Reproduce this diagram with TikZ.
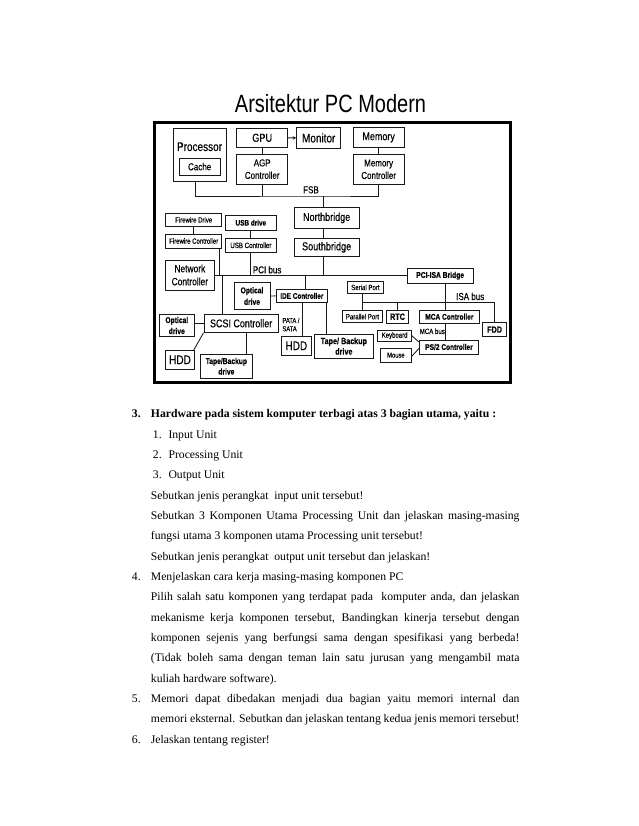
\documentclass[tikz,border=0pt]{standalone}
\usepackage{fontspec}
\setmainfont{Liberation Serif}
\newfontfamily\dgfont[FakeStretch=0.8,FakeBold=0.35]{Liberation Sans}
\newfontfamily\dgbfont[FakeStretch=0.8,FakeBold=0.3]{Liberation Sans}
\newfontfamily\ttlfont[FakeStretch=0.8]{Liberation Sans}
\usetikzlibrary{arrows.meta}
\newcommand\dfs[2]{\dgfont\fontsize{#1}{#2}\selectfont}
\newcommand\dbs[2]{\dgbfont\fontsize{#1}{#2}\selectfont\bfseries}
\newcommand\pcbox[7]{\node[box,#6,minimum width={#4-#2},minimum height={#5-#3}] (#1) at ({(#2+#4)/2},{(#3+#5)/2}) {#7};}
\newcommand\bodyfs{\fontsize{11.7}{14}\selectfont}
\begin{document}
\begin{tikzpicture}[x=1pt,y=-1pt,
  box/.style={draw=black!90,line width=0.85pt,inner sep=0pt,align=center,text=black},
  lbl/.style={inner sep=0pt,text=black},
  wire/.style={draw=black!90,line width=0.85pt},
  txt/.style={anchor=base west,inner sep=0pt,font=\bodyfs,text=black},
  txtb/.style={txt,font=\bodyfs\bfseries}]
\fill[white] (0,0) rectangle (638,826);
\useasboundingbox (0,0) rectangle (638,826);

% title and frame
\node[lbl,anchor=base,font=\ttlfont\fontsize{25}{28}\selectfont] (title) at (330.5,113) {Arsitektur PC Modern};
\node[draw=black,line width=3pt,inner sep=0pt,minimum width=356,minimum height=260.4] (frame) at (332,252.5) {};

% boxes
\pcbox{proc}{173}{128}{226}{181}{}{}
\node[lbl,anchor=base,font=\dfs{12.5}{14}] (procl) at (199.5,151) {Processor};
\pcbox{cache}{179.3}{158.3}{220}{175}{font=\dfs{10}{12}}{Cache}
\pcbox{gpu}{236.7}{128.3}{287.7}{147.3}{font=\dfs{11.5}{13}}{GPU}
\pcbox{mon}{296.7}{127.3}{340.7}{148.7}{font=\dfs{12.5}{14}}{Monitor}
\pcbox{agp}{236.7}{154.3}{287.7}{184}{font=\dfs{10}{12.5}}{AGP\\Controller}
\pcbox{mem}{353.3}{127.7}{404}{147.3}{font=\dfs{11.2}{13}}{Memory}
\pcbox{memc}{353.3}{154.3}{404}{184.3}{font=\dfs{10}{12.5}}{Memory\\Controller}
\pcbox{nb}{294}{207.7}{359.3}{228.3}{font=\dfs{11.3}{13}}{Northbridge}
\pcbox{sb}{294}{238}{359.3}{256.7}{font=\dfs{11.4}{13}}{Southbridge}
\pcbox{fwd}{165.7}{213}{221.7}{226.7}{font=\dfs{7.5}{9}}{Firewire Drive}
\pcbox{fwc}{165.7}{234}{221.7}{248}{font=\dfs{7.5}{9}}{Firewire Controller}
\pcbox{usbd}{225}{215.5}{276.7}{230}{font=\dbs{8}{9}}{USB drive}
\pcbox{usbc}{225}{238.3}{276.7}{252.3}{font=\dfs{7.7}{9}}{USB Controller}
\pcbox{net}{165.7}{260}{214}{290}{font=\dfs{10.5}{13}}{Network\\Controller}
\pcbox{opt1}{234}{282.7}{270}{309.3}{font=\dbs{8.4}{11.5}}{Optical\\drive}
\pcbox{ide}{276}{289.5}{327.7}{302.3}{font=\dbs{8}{9}}{IDE Controller}
\pcbox{scsi}{204}{314.3}{278.3}{332.3}{font=\dfs{11.2}{13}}{SCSI Controller}
\pcbox{opt2}{159.3}{314.3}{194.3}{336.7}{font=\dbs{8.4}{11}}{Optical\\drive}
\pcbox{hdd1}{165.7}{350.5}{194.3}{369}{font=\dfs{12.5}{14}}{HDD}
\pcbox{tape1}{200.7}{354}{252}{378.5}{font=\dbs{8.4}{10.5}}{Tape/Backup\\drive}
\pcbox{hdd2}{281.7}{336.5}{311}{355}{font=\dfs{12.5}{14}}{HDD}
\pcbox{tape2}{314.5}{334}{373.3}{358.3}{font=\dbs{9}{10.5}}{Tape/ Backup\\drive}
\pcbox{ser}{347.5}{281.5}{383.3}{293.3}{font=\dfs{7.6}{9}}{Serial Port}
\pcbox{par}{342}{310.5}{382.8}{322.8}{font=\dfs{7.6}{9}}{Parallel Port}
\pcbox{rtc}{386.5}{310.5}{408.5}{323}{font=\dbs{9}{10}}{RTC}
\pcbox{mca}{419.2}{310}{479.5}{323.5}{font=\dbs{8.2}{9}}{MCA Controller}
\pcbox{isa}{407}{268}{473.3}{283.5}{font=\dbs{8.4}{9}}{PCI-ISA Bridge}
\pcbox{fdd}{482.5}{322.5}{506.7}{336.7}{font=\dbs{9}{10}}{FDD}
\pcbox{kbd}{377.7}{330.3}{411.5}{341.2}{font=\dfs{7.5}{9}}{Keyboard}
\pcbox{mouse}{380.3}{348.3}{411.5}{362}{font=\dfs{7.2}{9}}{Mouse}
\pcbox{ps2}{419.3}{340}{478.7}{354}{font=\dbs{8.2}{9}}{PS/2 Controller}

% connectors
\draw[wire,-{Stealth[length=3.5pt,width=3.5pt]}] (gpu) -- (mon);
\draw[wire] (gpu) -- (agp);
\draw[wire] (mem) -- (memc);
\coordinate (fsb) at (323.3,196);
\draw[wire] ([xshift=-4.5pt]proc.south) |- (fsb) -| (memc.south);
\draw[wire] (agp.south) -- (agp.south |- fsb);
\draw[wire] (fsb) -- (fsb |- nb.north);
\draw[wire] (fsb |- nb.south) -- (fsb |- sb.north);
\coordinate (pci) at (323.3,275);
\draw[wire] (net.east |- pci) -- (isa.west |- pci);
\draw[wire] (fsb |- sb.south) -- (pci);
\draw[wire] (fwd) -- (fwc);
\draw[wire] (usbd) -- (usbc);
\draw[wire] ([xshift=-2.7pt]fwc.south east) -- ([xshift=-2.7pt]fwc.south east |- pci);
\draw[wire] (usbc.south) -- (usbc.south |- pci);
\draw[wire] ([xshift=18.7pt]scsi.north west) -- ([xshift=18.7pt]scsi.north west |- pci);
\draw[wire] ([xshift=3.9pt]ide.north) -- ([xshift=3.9pt]ide.north |- pci);
\draw[wire] (opt1.east) -- (ide.west);
\draw[wire] (scsi.west) -- (scsi.west -| opt2.east);
\draw[wire] (scsi.south west) -- ([xshift=-1pt]hdd1.north east);
\draw[wire] ([xshift=4.8pt]scsi.south) -- ([xshift=4.8pt]scsi.south |- tape1.north);
\draw[wire] ([xshift=0.9pt]ide.south) -- ([xshift=0.9pt]ide.south |- hdd2.north);
\draw[wire] ([xshift=-1.5pt]ide.south east) -- ([xshift=-1.5pt]ide.south east |- tape2.north);
\coordinate (isab) at (445.7,302.3);
\draw[wire] (isa.south -| isab) -- (mca.north -| isab);
\draw[wire] (par.north) -- (par.north |- ser.south);
\draw[wire] (par.north |- isab) -- (fdd.north |- isab) -- (fdd.north);
\draw[wire] (rtc.north) -- (rtc.north |- isab);
\draw[wire] (mca.south -| isab) -- (ps2.north -| isab);
\draw[wire] (kbd.east) -- ([yshift=5pt]ps2.west);
\draw[wire] ([yshift=-1pt]mouse.east) -- ([yshift=-1.5pt]ps2.west);

% bus labels
\node[lbl,anchor=base,font=\dfs{10}{12}] (fsbl) at (311,193.3) {FSB};
\node[lbl,anchor=base west,font=\dfs{10}{12}] (pcil) at (252.7,273.3) {PCI bus};
\node[lbl,anchor=base west,font=\dfs{10}{12}] (isal) at (456,300) {ISA bus};
\node[lbl,anchor=base west,font=\dfs{7.2}{8.3}] (pata1) at (282.3,323) {PATA /};
\node[lbl,anchor=base west,font=\dfs{7.2}{8.3}] (pata2) at (282.3,331.3) {SATA};
\node[lbl,anchor=base east,font=\dfs{7.6}{9}] (mcal) at (445,334) {MCA bus};

% body text
\node[txtb] (n3) at (131.7,417.7) {3.};
\node[txtb] (t0) at (150.7,417.7) {Hardware pada sistem komputer terbagi atas 3 bagian utama, yaitu :};
\node[txt] (m1) at (152.7,438.05) {1.};
\node[txt] (t1) at (168.3,438.05) {Input Unit};
\node[txt] (m2) at (152.7,458.4) {2.};
\node[txt] (t2) at (168.3,458.4) {Processing Unit};
\node[txt] (m3) at (152.7,478.75) {3.};
\node[txt] (t3) at (168.3,478.75) {Output Unit};
\node[txt] (t4) at (150.7,499.1) {Sebutkan jenis perangkat~ input unit tersebut!};
\node[txt] (t5) at (150.7,519.45) {\makebox[368.6pt][s]{Sebutkan 3 Komponen Utama Processing Unit dan jelaskan masing-masing}};
\node[txt] (t6) at (150.7,539.8) {fungsi utama 3 komponen utama Processing unit tersebut!};
\node[txt] (t7) at (150.7,560.15) {Sebutkan jenis perangkat~ output unit tersebut dan jelaskan!};
\node[txt] (n4) at (131.7,580.5) {4.};
\node[txt] (t8) at (150.7,580.5) {Menjelaskan cara kerja masing-masing komponen PC};
\node[txt] (t9) at (150.7,600.85) {\makebox[368.6pt][s]{Pilih salah satu komponen yang terdapat pada~ komputer anda, dan jelaskan}};
\node[txt] (t10) at (150.7,621.2) {\makebox[368.6pt][s]{mekanisme kerja komponen tersebut, Bandingkan kinerja tersebut dengan}};
\node[txt] (t11) at (150.7,641.55) {\makebox[368.6pt][s]{komponen sejenis yang berfungsi sama dengan spesifikasi yang berbeda!}};
\node[txt] (t12) at (150.7,661.9) {\makebox[368.6pt][s]{(Tidak boleh sama dengan teman lain satu jurusan yang mengambil mata}};
\node[txt] (t13) at (150.7,682.25) {kuliah hardware software).};
\node[txt] (n5) at (131.7,702.6) {5.};
\node[txt] (t14) at (150.7,702.6) {\makebox[368.6pt][s]{Memori dapat dibedakan menjadi dua bagian yaitu memori internal dan}};
\node[txt] (t15) at (150.7,722.95) {\makebox[368.6pt][s]{memori eksternal. Sebutkan dan jelaskan tentang kedua jenis memori tersebut!}};
\node[txt] (n6) at (131.7,743.3) {6.};
\node[txt] (t16) at (150.7,743.3) {Jelaskan tentang register!};
\end{tikzpicture}
\end{document}
